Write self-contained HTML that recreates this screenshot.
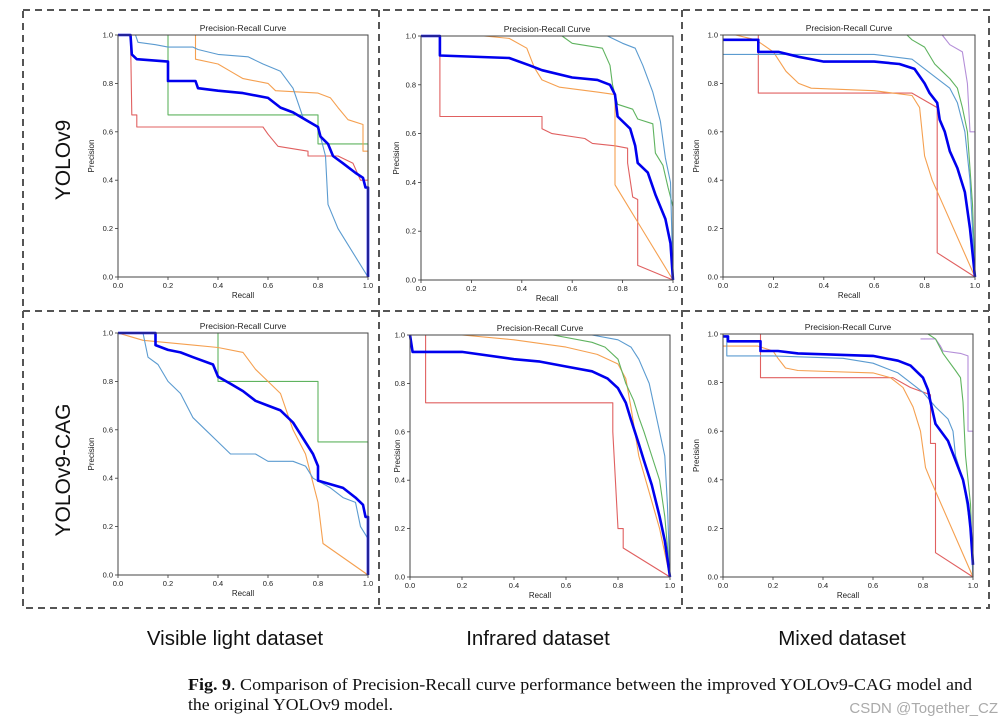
<!DOCTYPE html>
<html><head><meta charset="utf-8">
<style>
html,body{margin:0;padding:0;background:#fff;}
body{width:1004px;height:724px;position:relative;overflow:hidden;font-family:"Liberation Sans",sans-serif;}
svg{position:absolute;left:0;top:0;}
</style></head>
<body>
<svg id="fig" width="1004" height="724" viewBox="0 0 1004 724">
  <g stroke="#555" stroke-width="2" stroke-dasharray="7,5" fill="none">
    <rect x="23" y="10" width="966" height="598"/>
    <line x1="23" y1="311" x2="989" y2="311"/>
    <line x1="379" y1="10" x2="379" y2="608"/>
    <line x1="682" y1="10" x2="682" y2="608"/>
  </g>
  <text transform="translate(70,160) rotate(-90)" text-anchor="middle" font-size="21" fill="#111">YOLOv9</text>
  <text transform="translate(70,470) rotate(-90)" text-anchor="middle" font-size="21" fill="#111">YOLOv9-CAG</text>
  <text x="235" y="645" text-anchor="middle" font-size="20.5" fill="#111">Visible light dataset</text>
  <text x="538" y="645" text-anchor="middle" font-size="20.5" fill="#111">Infrared dataset</text>
  <text x="842" y="645" text-anchor="middle" font-size="20.5" fill="#111">Mixed dataset</text>
  <text x="188" y="690" font-family="'Liberation Serif',serif" font-size="16.5" fill="#111" textLength="784" lengthAdjust="spacingAndGlyphs"><tspan font-weight="bold">Fig. 9</tspan>.  Comparison of Precision-Recall curve performance between the improved YOLOv9-CAG model and</text>
  <text x="188" y="710" font-family="'Liberation Serif',serif" font-size="16.5" fill="#111" textLength="205" lengthAdjust="spacingAndGlyphs">the original YOLOv9 model.</text>
  <text x="998" y="713" text-anchor="end" font-size="15" fill="#aaa">CSDN @Together_CZ</text>
</svg>
<script>
const ticks = [0, 0.2, 0.4, 0.6, 0.8, 1.0];
const tickLabels = ["0.0","0.2","0.4","0.6","0.8","1.0"];
// Panel 1: visible YOLOv9
const p1Thick=[[0,1],[0.05,1],[0.055,0.92],[0.075,0.9],[0.2,0.89],[0.2,0.81],[0.31,0.81],[0.32,0.78],[0.4,0.77],[0.5,0.76],[0.6,0.74],[0.65,0.7],[0.7,0.68],[0.75,0.65],[0.8,0.62],[0.81,0.58],[0.84,0.55],[0.86,0.5],[0.9,0.47],[0.95,0.43],[0.98,0.41],[0.99,0.37],[1,0.37],[1,0]];
const p1Blue=[[0,1],[0.07,1],[0.08,0.97],[0.15,0.96],[0.2,0.95],[0.3,0.95],[0.32,0.94],[0.4,0.92],[0.52,0.91],[0.58,0.88],[0.65,0.85],[0.7,0.78],[0.74,0.66],[0.8,0.62],[0.83,0.5],[0.84,0.3],[0.88,0.2],[1,0]];
const p1Orange=[[0.31,1],[0.31,0.9],[0.4,0.88],[0.45,0.85],[0.5,0.82],[0.6,0.8],[0.63,0.77],[0.8,0.76],[0.85,0.74],[0.88,0.7],[0.92,0.65],[0.98,0.63],[0.98,0.52],[1,0.52],[1,0.4]];
const p1Green=[[0.2,1],[0.2,0.67],[0.8,0.67],[0.8,0.55],[1,0.55],[1,0.4]];
const p1Red=[[0.05,1],[0.055,0.67],[0.075,0.67],[0.075,0.62],[0.58,0.62],[0.6,0.59],[0.64,0.54],[0.76,0.52],[0.76,0.5],[0.88,0.5],[0.94,0.47],[0.97,0.4],[1,0.4]];
// Panel 2: infrared YOLOv9
const p2Thick=[[0,1],[0.075,1],[0.075,0.92],[0.35,0.91],[0.43,0.88],[0.48,0.86],[0.6,0.83],[0.7,0.82],[0.75,0.8],[0.77,0.76],[0.78,0.67],[0.83,0.62],[0.85,0.55],[0.86,0.48],[0.9,0.44],[0.93,0.35],[0.97,0.25],[0.99,0.15],[1,0]];
const p2Blue=[[0.74,1],[0.8,0.97],[0.85,0.95],[0.88,0.88],[0.92,0.77],[0.95,0.65],[0.97,0.5],[0.99,0.4],[1,0]];
const p2Green=[[0.56,1],[0.6,0.97],[0.72,0.95],[0.75,0.88],[0.76,0.8],[0.78,0.72],[0.84,0.7],[0.86,0.66],[0.92,0.64],[0.93,0.52],[0.96,0.47],[0.98,0.38],[1,0.3],[1,0]];
const p2Orange=[[0.25,1],[0.35,0.99],[0.42,0.95],[0.45,0.87],[0.48,0.82],[0.55,0.79],[0.7,0.77],[0.77,0.76],[0.77,0.39],[1,0]];
const p2Red=[[0,1],[0.075,1],[0.075,0.67],[0.48,0.67],[0.48,0.62],[0.52,0.6],[0.65,0.58],[0.68,0.56],[0.77,0.55],[0.82,0.54],[0.82,0.48],[0.84,0.34],[0.86,0.33],[0.86,0.06],[1,0]];
// Panel 3: mixed YOLOv9
const p3Thick=[[0,0.98],[0.14,0.98],[0.14,0.93],[0.22,0.93],[0.3,0.91],[0.4,0.89],[0.6,0.89],[0.7,0.88],[0.76,0.86],[0.8,0.8],[0.82,0.76],[0.85,0.72],[0.86,0.65],[0.88,0.6],[0.9,0.52],[0.93,0.45],[0.96,0.35],[0.98,0.2],[1,0]];
const p3Blue=[[0,0.92],[0.2,0.92],[0.6,0.92],[0.75,0.9],[0.85,0.82],[0.9,0.78],[0.93,0.72],[0.96,0.6],[0.98,0.4],[1,0]];
const p3Green=[[0.73,1],[0.75,0.98],[0.8,0.95],[0.84,0.88],[0.87,0.85],[0.9,0.82],[0.93,0.78],[0.95,0.7],[0.97,0.6],[0.99,0.3],[1,0]];
const p3Purple=[[0.87,1],[0.9,0.96],[0.95,0.93],[0.97,0.8],[0.98,0.6],[1,0.6],[1,0]];
const p3Orange=[[0.05,1],[0.13,0.98],[0.2,0.93],[0.25,0.85],[0.3,0.8],[0.35,0.78],[0.6,0.77],[0.75,0.75],[0.78,0.7],[0.8,0.5],[0.83,0.4],[1,0]];
const p3Red=[[0,1],[0.14,1],[0.14,0.76],[0.75,0.76],[0.85,0.7],[0.85,0.1],[1,0]];
// Panel 4: visible CAG
const p4Thick=[[0,1],[0.15,1],[0.15,0.95],[0.2,0.93],[0.25,0.92],[0.3,0.9],[0.38,0.87],[0.4,0.82],[0.45,0.79],[0.5,0.76],[0.55,0.72],[0.6,0.7],[0.65,0.68],[0.7,0.63],[0.78,0.5],[0.8,0.45],[0.8,0.39],[0.9,0.36],[0.95,0.32],[0.98,0.29],[0.99,0.24],[1,0.24],[1,0]];
const p4Blue=[[0,1],[0.1,1],[0.12,0.9],[0.16,0.87],[0.2,0.8],[0.25,0.75],[0.3,0.65],[0.35,0.6],[0.4,0.55],[0.45,0.5],[0.55,0.5],[0.6,0.47],[0.7,0.47],[0.75,0.45],[0.78,0.4],[0.85,0.36],[0.9,0.32],[0.95,0.3],[0.97,0.2],[1,0.15]];
const p4Orange=[[0,1],[0.1,0.97],[0.2,0.96],[0.3,0.95],[0.4,0.94],[0.5,0.92],[0.55,0.85],[0.6,0.8],[0.65,0.75],[0.7,0.6],[0.75,0.5],[0.8,0.3],[0.82,0.13],[1,0]];
const p4Green=[[0.4,1],[0.4,0.8],[0.8,0.8],[0.8,0.55],[1,0.55],[1,0]];
// Panel 5: infrared CAG
const p5Thick=[[0,1],[0.01,0.93],[0.2,0.93],[0.4,0.9],[0.5,0.89],[0.6,0.87],[0.7,0.85],[0.76,0.82],[0.8,0.78],[0.83,0.72],[0.85,0.65],[0.88,0.55],[0.9,0.48],[0.93,0.38],[0.96,0.25],[0.98,0.15],[1,0]];
const p5Blue=[[0.7,1],[0.8,0.98],[0.85,0.95],[0.88,0.9],[0.92,0.8],[0.95,0.65],[0.98,0.5],[0.99,0.3],[1,0]];
const p5Green=[[0.55,1],[0.7,0.97],[0.75,0.95],[0.8,0.9],[0.83,0.8],[0.86,0.73],[0.88,0.66],[0.9,0.6],[0.93,0.5],[0.96,0.4],[0.98,0.25],[1,0]];
const p5Orange=[[0.2,1],[0.4,0.98],[0.6,0.95],[0.72,0.92],[0.8,0.88],[0.83,0.82],[0.85,0.7],[0.88,0.5],[0.92,0.35],[0.96,0.2],[1,0]];
const p5Red=[[0,1],[0.06,1],[0.06,0.72],[0.78,0.72],[0.78,0.6],[0.8,0.2],[0.82,0.2],[0.82,0.12],[1,0]];
// Panel 6: mixed CAG
const p6Thick=[[0,0.99],[0.02,0.99],[0.02,0.97],[0.15,0.97],[0.15,0.93],[0.22,0.93],[0.3,0.92],[0.6,0.91],[0.7,0.89],[0.75,0.87],[0.8,0.82],[0.82,0.77],[0.83,0.72],[0.85,0.63],[0.9,0.56],[0.93,0.48],[0.96,0.4],[0.98,0.3],[0.99,0.2],[1,0.05]];
const p6Blue=[[0,0.99],[0.015,0.99],[0.015,0.91],[0.2,0.91],[0.48,0.9],[0.6,0.88],[0.7,0.84],[0.8,0.76],[0.85,0.7],[0.9,0.65],[0.92,0.6],[0.93,0.5],[0.96,0.4],[0.99,0.2],[1,0]];
const p6Green=[[0.82,1],[0.85,0.98],[0.88,0.92],[0.93,0.85],[0.95,0.82],[0.96,0.72],[0.97,0.5],[0.99,0.3],[1,0]];
const p6Purple=[[0.79,0.98],[0.85,0.98],[0.87,0.95],[0.88,0.93],[0.95,0.92],[0.98,0.91],[0.98,0.6],[1,0.6],[1,0]];
const p6Orange=[[0,0.95],[0.14,0.95],[0.2,0.93],[0.22,0.9],[0.25,0.86],[0.3,0.85],[0.6,0.84],[0.67,0.82],[0.72,0.78],[0.76,0.7],[0.79,0.6],[0.81,0.45],[0.83,0.4],[1,0]];
const p6Red=[[0.15,1],[0.15,0.82],[0.68,0.82],[0.75,0.78],[0.83,0.75],[0.83,0.55],[0.85,0.55],[0.85,0.1],[1,0]];

const COL={thick:"#0000ee",blue:"#5b9bd0",orange:"#f5a050",green:"#5fb35f",red:"#e06060",purple:"#b48ed8"};
const panels=[
 {name:"panel-visible-yolov9",x0:118,x1:368,y0:35,y1:277,yl:24,series:[["red",p1Red],["green",p1Green],["orange",p1Orange],["blue",p1Blue],["thick",p1Thick]]},
 {name:"panel-infrared-yolov9",x0:421,x1:673,y0:36,y1:280,yl:22,series:[["red",p2Red],["orange",p2Orange],["green",p2Green],["blue",p2Blue],["thick",p2Thick]]},
 {name:"panel-mixed-yolov9",x0:723,x1:975,y0:35,y1:277,yl:24,series:[["red",p3Red],["orange",p3Orange],["purple",p3Purple],["green",p3Green],["blue",p3Blue],["thick",p3Thick]]},
 {name:"panel-visible-cag",x0:118,x1:368,y0:333,y1:575,yl:24,series:[["green",p4Green],["orange",p4Orange],["blue",p4Blue],["thick",p4Thick]]},
 {name:"panel-infrared-cag",x0:410,x1:670,y0:335,y1:577,yl:10,series:[["red",p5Red],["orange",p5Orange],["green",p5Green],["blue",p5Blue],["thick",p5Thick]]},
 {name:"panel-mixed-cag",x0:723,x1:973,y0:334,y1:577,yl:24,series:[["red",p6Red],["orange",p6Orange],["purple",p6Purple],["green",p6Green],["blue",p6Blue],["thick",p6Thick]]}
];
const NS="http://www.w3.org/2000/svg";
const svg=document.getElementById("fig");
function mk(tag,attrs,parent){const e=document.createElementNS(NS,tag);for(const k in attrs)e.setAttribute(k,attrs[k]);parent.appendChild(e);return e;}
panels.forEach(p=>{
  const sx=v=>p.x0+v*(p.x1-p.x0);
  const sy=v=>p.y1-v*(p.y1-p.y0);
  const g=mk("g",{},svg);
  
  
  const t=mk("text",{x:(p.x0+p.x1)/2,y:p.y0-4,"text-anchor":"middle","font-size":"8.5",fill:"#222"},g);
  t.textContent="Precision-Recall Curve";
  
  
  ticks.forEach((v,i)=>{
    mk("line",{x1:sx(v),x2:sx(v),y1:p.y1,y2:p.y1+3,stroke:"#333","stroke-width":"0.8"},g);
    const xt=mk("text",{x:sx(v),y:p.y1+11,"text-anchor":"middle","font-size":"7.5",fill:"#222"},g);
    xt.textContent=tickLabels[i];
    
    
    mk("line",{x1:p.x0-3,x2:p.x0,y1:sy(v),y2:sy(v),stroke:"#333","stroke-width":"0.8"},g);
    const yt=mk("text",{x:p.x0-5,y:sy(v)+2.5,"text-anchor":"end","font-size":"7.5",fill:"#222"},g);
    yt.textContent=tickLabels[i];
    
    
  });
  const xl=mk("text",{x:(p.x0+p.x1)/2,y:p.y1+21,"text-anchor":"middle","font-size":"8",fill:"#222"},g);
  xl.textContent="Recall";
  
  
  const yl=mk("text",{transform:`translate(${p.x0-p.yl},${(p.y0+p.y1)/2}) rotate(-90)`,"text-anchor":"middle","font-size":"8",fill:"#222"},g);
  yl.textContent="Precision";
  
  
  p.series.forEach(([c,pts])=>{
    const pl=mk("polyline",{points:pts.map(q=>sx(q[0]).toFixed(1)+","+sy(q[1]).toFixed(1)).join(" "),fill:"none",stroke:COL[c],"stroke-width":c==="thick"?"2.6":"1.1","stroke-linejoin":"round"},g);
    
    
  });
  const fr=mk("rect",{x:p.x0,y:p.y0,width:p.x1-p.x0,height:p.y1-p.y0,fill:"none",stroke:"#444","stroke-width":"1"},g);
  
  
});
</script>
</body></html>
